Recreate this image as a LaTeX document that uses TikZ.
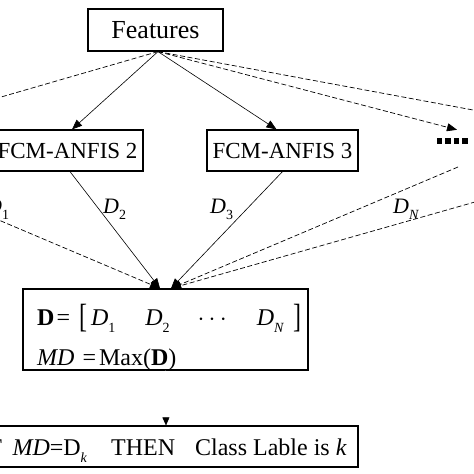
\documentclass[tikz,border=0pt]{standalone}
\usepackage{fontspec}
\setmainfont{Liberation Serif}
\usetikzlibrary{arrows.meta}
\newcommand{\sbs}[1]{\raisebox{-0.3em}{\fontsize{14pt}{14pt}\selectfont #1}}
\newcommand{\vD}{\textit{D}}
\newcommand{\brk}[1]{\raisebox{-2pt}{\scalebox{1}[1.4]{#1}}}
\begin{document}
\begin{tikzpicture}[x=1pt,y=-1pt,
  box/.style={draw, line width=1.2pt, inner sep=0pt, font=\fontsize{23pt}{27pt}\selectfont},
  txt/.style={inner sep=0pt, font=\fontsize{24pt}{28pt}\selectfont},
  lbl/.style={inner sep=0pt, font=\fontsize{22pt}{26pt}\selectfont},
  solidarr/.style={line width=0.6pt, -{Triangle[length=10pt,width=8pt]}},
  dasharr/.style={line width=0.7pt, dash pattern=on 5pt off 2.5pt, -{Triangle[length=10pt,width=8pt]}}]
\useasboundingbox (0,0) rectangle (474,474);
\clip (0,0) rectangle (474,474);
% nodes
\node[box, minimum width=135pt, minimum height=42pt, font=\fontsize{26pt}{30pt}\selectfont] (feat) at (155.5,30) {Features};
\node[box, minimum width=151pt, minimum height=41pt] (f2) at (67.5,150.5) {FCM-ANFIS 2};
\node[box, minimum width=151pt, minimum height=41pt] (f3) at (282.5,150.5) {FCM-ANFIS 3};
\node[inner sep=0pt, minimum height=22pt] (dots) at (452,141)
  {\rule{5.5pt}{5.5pt}\hspace{3pt}\rule{5.5pt}{5.5pt}\hspace{3pt}\rule{5.5pt}{5.5pt}\hspace{3pt}\rule{5.5pt}{5.5pt}};
\node[box, minimum width=285pt, minimum height=81pt] (dbox) at (165.5,329.5) {};
\node[txt, anchor=base west] (l1) at (37,325)
  {\textbf{D}\hspace{2pt}=\hspace{9pt}\brk{[}\hspace{4pt}\vD\sbs{1}\hspace{30pt}\vD\sbs{2}\hspace{28pt}$\cdots$\hspace{30pt}\vD\sbs{\textit{N}}\hspace{9pt}\brk{]}};
\node[txt, anchor=base west] (l2) at (37,365)
  {\textit{MD}\hspace{8pt}=\hspace{3pt}Max(\textbf{D})};
\node[box, minimum width=384pt, minimum height=41pt] (ifb) at (166,446.5) {};
\node[txt, anchor=base east] (l3) at (347,455)
  {IF\hspace{10pt}\textit{MD}=D\sbs{\textit{k}}\hspace{24pt}THEN\hspace{20pt}Class Lable is \textit{k}};
% labels
\node[lbl, anchor=base west] (d1) at (-14,213) {\vD\sbs{1}};
\node[lbl, anchor=base west] (d2) at (103,213) {\vD\sbs{2}};
\node[lbl, anchor=base west] (d3) at (210,213) {\vD\sbs{3}};
\node[lbl, anchor=base west] (dn) at (393,213) {\vD\sbs{\textit{N}}};
% free ends (boxes outside the visible area)
\coordinate (c1) at (-113,130);
\coordinate (cN) at (581,130);
\coordinate (c1b) at (-117,171);
\coordinate (cNb) at (584,171);
\coordinate (cd) at (458,167);
% connectors from Features
\draw[dasharr] ([xshift=2.5pt]feat.south) -- (c1);
\draw[solidarr] ([xshift=2.5pt]feat.south) -- ([xshift=4.5pt]f2.north);
\draw[solidarr] ([xshift=2.5pt]feat.south) -- ([xshift=-6pt]f3.north);
\draw[dasharr] ([xshift=2.5pt]feat.south) -- ([xshift=5pt]dots.north);
\draw[dasharr] ([xshift=2.5pt]feat.south) -- (cN);
% connectors to D box
\draw[dasharr] (c1b) -- ([xshift=-5.5pt]dbox.north);
\draw[solidarr] ([xshift=2.5pt]f2.south) -- ([xshift=-5.5pt]dbox.north);
\draw[solidarr] (f3.south) -- ([xshift=5.5pt]dbox.north);
\draw[dasharr] (cd) -- ([xshift=5.5pt]dbox.north);
\draw[dasharr] (cNb) -- ([xshift=5.5pt]dbox.north);
% D box to decision (line not visible in the reference, only its head)
\draw[line width=0.5pt, draw=white, -{Triangle[black,length=8pt,width=7pt]}] (dbox.south) -- (ifb.north);
\end{tikzpicture}
\end{document}
